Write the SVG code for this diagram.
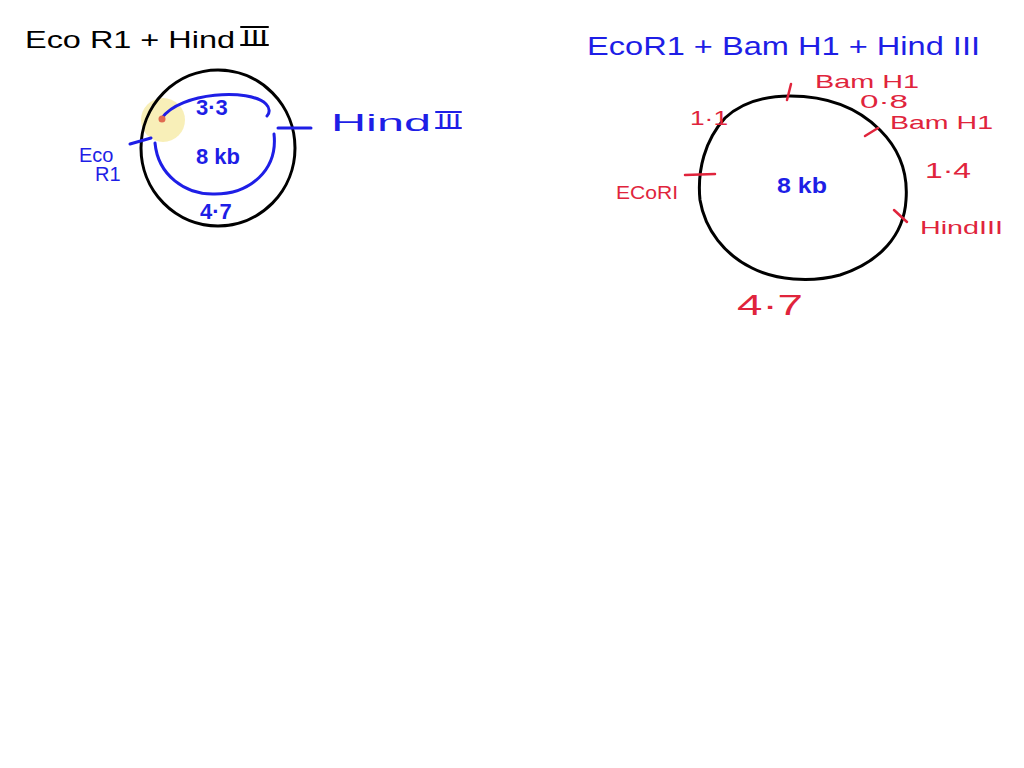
<svg xmlns="http://www.w3.org/2000/svg" width="1024" height="768" viewBox="0 0 1024 768">
<style>
.bk{fill:none;stroke:#000;stroke-width:3;stroke-linecap:round}
.bl{fill:none;stroke:#1e1ee6;stroke-width:3;stroke-linecap:round}
.rd{fill:none;stroke:#e0243c;stroke-width:2.5;stroke-linecap:round}
.tb{font-family:"Liberation Sans",Arial,sans-serif;fill:#1e1ee6}
.tk{font-family:"Liberation Sans",Arial,sans-serif;fill:#000}
.tr{font-family:"Liberation Sans",Arial,sans-serif;fill:#e0243c}
</style>
<rect width="1024" height="768" fill="#fff"/>
<g id="left-diagram">
  <text class="tk" x="25" y="48" font-size="24" textLength="210" lengthAdjust="spacingAndGlyphs">Eco R1 +  Hind</text>
  <text class="tk" x="242" y="44" font-size="20" textLength="26" lengthAdjust="spacingAndGlyphs">III</text>
  <line class="bk" x1="241" y1="27" x2="268" y2="27" style="stroke-width:2"/>
  <line class="bk" x1="241" y1="45" x2="268" y2="45" style="stroke-width:2"/>
  <circle cx="163" cy="120" r="22" fill="#f5eaa0" opacity="0.75"/>
  <ellipse class="bk" cx="218" cy="148" rx="77" ry="78"/>
  <path class="bl" d="M162 118 C180 92 250 88 266 104 C270 108 270 113 267 116"/>
  <circle cx="162" cy="119" r="3.5" fill="#e06a50"/>
  <path class="bl" d="M155 143 C158 175 185 195 215 194 C250 194 278 170 274 134"/>
  <line class="bl" x1="130" y1="144" x2="151" y2="138"/>
  <line class="bl" x1="278" y1="128" x2="311" y2="128"/>
  <text class="tb" x="196" y="115" font-size="22" font-weight="bold">3·3</text>
  <text class="tb" x="196" y="164" font-size="22" font-weight="bold">8 kb</text>
  <text class="tb" x="200" y="219" font-size="22" font-weight="bold">4·7</text>
  <text class="tb" x="79" y="162" font-size="20">Eco</text>
  <text class="tb" x="95" y="181" font-size="20">R1</text>
  <text class="tb" x="331" y="131" font-size="24" textLength="100" lengthAdjust="spacingAndGlyphs">Hind</text>
  <text class="tb" x="437" y="127" font-size="18" textLength="24" lengthAdjust="spacingAndGlyphs">III</text>
  <line class="bl" x1="436" y1="112" x2="461" y2="112" style="stroke-width:2"/>
  <line class="bl" x1="436" y1="128" x2="461" y2="128" style="stroke-width:2"/>
</g>
<g id="right-diagram">
  <text class="tb" x="587" y="55" font-size="26" textLength="393" lengthAdjust="spacingAndGlyphs">EcoR1 +  Bam H1 + Hind III</text>
  <path class="bk" d="M790 96 C830 96 860 110 880 130 C900 150 908 175 906 200 C904 235 880 262 840 275 C810 283 775 280 752 268 C725 255 705 230 700 200 C697 170 705 140 725 118 C742 102 765 96 790 96 Z"/>
  <line class="rd" x1="791" y1="84" x2="787" y2="100"/>
  <line class="rd" x1="865" y1="136" x2="878" y2="128"/>
  <line class="rd" x1="685" y1="175" x2="715" y2="174"/>
  <line class="rd" x1="894" y1="210" x2="907" y2="222"/>
  <text class="tr" x="815" y="88" font-size="19" textLength="104" lengthAdjust="spacingAndGlyphs">Bam H1</text>
  <text class="tr" x="860" y="108" font-size="19" textLength="48" lengthAdjust="spacingAndGlyphs">0·8</text>
  <text class="tr" x="890" y="129" font-size="19" textLength="103" lengthAdjust="spacingAndGlyphs">Bam H1</text>
  <text class="tr" x="690" y="125" font-size="20" textLength="38" lengthAdjust="spacingAndGlyphs">1·1</text>
  <text class="tr" x="925" y="178" font-size="22" textLength="46" lengthAdjust="spacingAndGlyphs">1·4</text>
  <text class="tr" x="616" y="199" font-size="18" textLength="62" lengthAdjust="spacingAndGlyphs">ECoRI</text>
  <text class="tr" x="920" y="234" font-size="18" textLength="83" lengthAdjust="spacingAndGlyphs">HindIII</text>
  <text class="tr" x="737" y="315" font-size="30" textLength="66" lengthAdjust="spacingAndGlyphs">4·7</text>
  <text class="tb" x="777" y="193" font-size="22" font-weight="bold" textLength="50" lengthAdjust="spacingAndGlyphs">8 kb</text>
</g>
</svg>
